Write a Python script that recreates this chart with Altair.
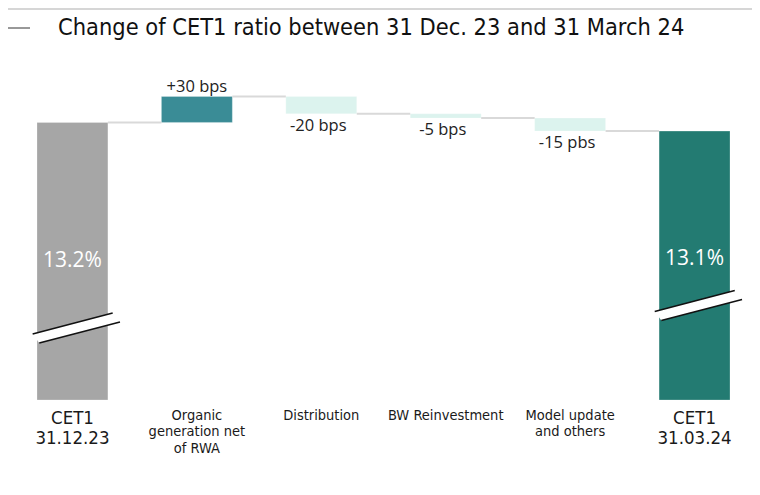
import altair as alt
import pandas as pd

# ---- data ----
categories = ["CET1|31.12.23", "Organic|generation net|of RWA", "Distribution",
              "BW Reinvestment", "Model update|and others", "CET1|31.03.24"]
start_ratio_bps = 1320          # 13.2 %
deltas_bps = [30, -20, -5, -15]
end_ratio_bps = 1310            # 13.1 %
delta_labels = ["+30 bps", "-20 bps", "-5 bps", "-15 pbs"]
total_labels = ["13.2%", "13.1%"]
axis_floor_bps = 1000           # broken axis base
break_at_bps = [1083, 1109]     # where the axis-break marks sit
total_label_at_bps = [1160, 1163]
title_text = "Change of CET1 ratio between 31 Dec. 23 and 31 March 24"

# ---- build tables ----
rows = [dict(cat=categories[0], lo=axis_floor_bps, hi=start_ratio_bps, kind="start")]
level = start_ratio_bps
for i, d in enumerate(deltas_bps):
    new = level + d
    rows.append(dict(cat=categories[i + 1], lo=min(level, new), hi=max(level, new),
                     kind="up" if d > 0 else "down", label=delta_labels[i]))
    level = new
rows.append(dict(cat=categories[-1], lo=axis_floor_bps, hi=end_ratio_bps, kind="end"))
bars = pd.DataFrame(rows)

levels = [start_ratio_bps]
for d in deltas_bps:
    levels.append(levels[-1] + d)
conn = pd.DataFrame(dict(cat=categories[:-1], nxt=categories[1:], level=levels))

totals = pd.DataFrame(dict(cat=[categories[0], categories[-1]], label=total_labels,
                           pos=total_label_at_bps, brk=break_at_bps))

cond_font = "Liberation Sans Narrow, DejaVu Sans Condensed, Roboto Condensed, Liberation Sans, sans-serif"
num_font = "Open Sans, Liberation Sans, sans-serif"

xscale = alt.Scale(domain=categories, paddingInner=0.43, paddingOuter=0.217, range=[0, 747])
yscale = alt.Scale(domain=[axis_floor_bps, 1392], nice=False, zero=False)

xaxis = alt.Axis(title=None, domain=False, ticks=False, labelAngle=0,
                 labelExpr="split(datum.label, '|')",
                 labelFontSize=alt.expr("indexof(datum.value, 'CET1') == 0 ? 18.5 : 14.5"),
                 labelPadding=8, labelFont=cond_font,
                 labelColor="#1a1a1a", labelBaseline="top", labelLimit=300)


def xenc(**kw):
    return alt.X("cat:N", sort=categories, scale=xscale, axis=xaxis, **kw)


def yenc(field):
    return alt.Y(field, scale=yscale, axis=None)


connectors = alt.Chart(conn).mark_rule(color="#d9d9d9", strokeWidth=2).encode(
    x=xenc(bandPosition=1),
    x2=alt.X2("nxt:N", bandPosition=0),
    y=yenc("level:Q"),
)

bar_layer = alt.Chart(bars).mark_bar(stroke="#ffffff", strokeOpacity=0.25, strokeWidth=1).encode(
    x=xenc(),
    y=yenc("lo:Q"),
    y2="hi:Q",
    color=alt.Color("kind:N", legend=None,
                    scale=alt.Scale(domain=["start", "up", "down", "end"],
                                    range=["#a6a6a6", "#3a8c96", "#dcf3ee", "#237b72"])),
)

up_labels = alt.Chart(bars).transform_filter("datum.kind == 'up'").mark_text(
    baseline="alphabetic", dy=-4, fontSize=16.5, font=num_font, color="#222222"
).encode(x=xenc(), y=yenc("hi:Q"), text="label:N")

down_labels = alt.Chart(bars).transform_filter("datum.kind == 'down'").mark_text(
    baseline="top", dy=4, dx=-3, fontSize=16.5, font=num_font, color="#222222"
).encode(x=xenc(), y=yenc("lo:Q"), text="label:N")

total_text = alt.Chart(totals).mark_text(
    baseline="middle", fontSize=21, font=num_font, color="#ffffff"
).encode(x=xenc(), y=yenc("pos:Q"), text="label:N")

band_path = "M -0.905 0.136 L 0.914 -0.341 L 1.08 -0.136 L -0.755 0.341 Z"
line_path = "M -0.905 0.136 L 0.914 -0.341 M -0.755 0.341 L 1.08 -0.136"
break_fill = alt.Chart(totals).mark_point(
    shape=band_path, filled=True, fill="#ffffff", opacity=1, size=7744, strokeWidth=0
).encode(x=xenc(), y=yenc("brk:Q"))
break_lines = alt.Chart(totals).mark_point(
    shape=line_path, filled=False, stroke="#111111", opacity=1, size=7744, strokeWidth=1.6
).encode(x=xenc(), y=yenc("brk:Q"))

one = pd.DataFrame({"t": [title_text]})
top_line = alt.Chart(one).mark_rule(color="#c8c8c8", strokeWidth=1.5).encode(
    x=alt.value(-2), x2=alt.value(745), y=alt.value(-51))
short_line = alt.Chart(one).mark_rule(color="#333333", strokeWidth=1).encode(
    x=alt.value(-2), x2=alt.value(20), y=alt.value(-32))
title_mark = alt.Chart(one).mark_text(
    align="left", baseline="alphabetic", fontSize=23.4, font=cond_font, color="#111111"
).encode(x=alt.value(48), y=alt.value(-25), text="t:N")

chart = alt.layer(
    bar_layer, connectors, break_fill, break_lines, up_labels, down_labels, total_text,
    top_line, short_line, title_mark
).properties(
    width=742, height=340,
    padding={"left": 2, "top": 52, "right": 0, "bottom": 60},
    autosize="none",
).configure_view(stroke=None)

chart.save("out.html", embed_options={"renderer": "svg", "actions": False})
